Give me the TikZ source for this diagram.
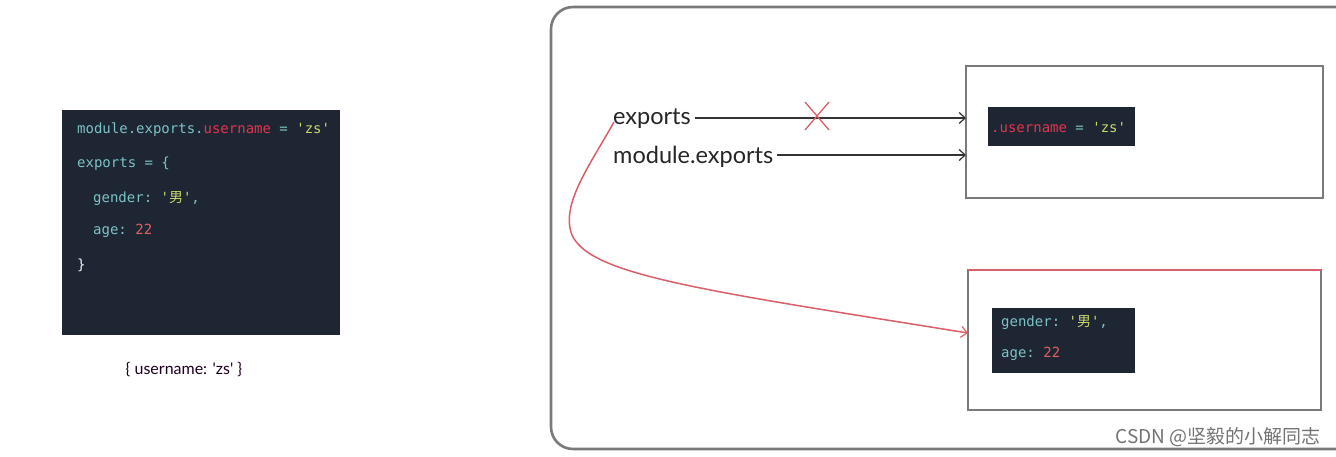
\documentclass[tikz,border=0pt]{standalone}
\usepackage{fontspec}
\setmainfont{Lato}
\setmonofont{DejaVu Sans Mono}
\newfontfamily\cjk{Noto Sans CJK SC}
\usetikzlibrary{arrows.meta}
\definecolor{codebg}{HTML}{1E2533}
\definecolor{cteal}{HTML}{7CC3C6}
\definecolor{cred}{HTML}{E3354F}
\definecolor{cgreen}{HTML}{C8D86A}
\definecolor{cnum}{HTML}{E0625E}
\definecolor{framegray}{HTML}{7A7A7A}
\definecolor{linegray}{HTML}{333333}
\definecolor{curvered}{HTML}{D9606A}
\tikzset{
  x=1pt,y=-1pt,
  chip/.style={fill=codebg,draw=none,inner sep=0pt,anchor=north west},
  code/.style={font=\ttfamily\fontsize{14}{16}\selectfont,anchor=west,inner sep=0pt,text=cteal},
  lbl/.style={font=\fontsize{23.5}{26}\selectfont,anchor=west,inner sep=0pt,text=black!85},
  obox/.style={draw=framegray,line width=2pt},
  conn/.style={draw=linegray,line width=1.4pt,-{Straight Barb[length=6pt,width=11pt,line width=1.2pt]}},
}
\newcommand{\cj}[1]{{\cjk #1}}
\begin{document}
\begin{tikzpicture}
\useasboundingbox (0,0) rectangle (1336,457);
\clip (0,0) rectangle (1336,457);
\fill[white] (0,0) rectangle (1336,457);
% left code panel
\node[chip,minimum width=278pt,minimum height=225pt] (leftpanel) at (62,110) {};
\node[code] (l1) at (77,130) {module.exports.\textcolor{cred}{username} = \textcolor{cgreen}{'zs'}};
\node[code] (l2) at (77,164) {exports = \{};
\node[code] (l3) at (93,198) {gender: \textcolor{cgreen}{'\cj{男}'},};
\node[code] (l4) at (93,231) {age: \textcolor{cnum}{22}};
\node[code,text=white!85!cteal] (l5) at (77,265) {\}};
\node[font=\fontsize{16}{18}\selectfont,text=black!75!violet,inner sep=0pt] (result) at (184,370) {\{ username: \textquotesingle zs\textquotesingle\ \}};
% outer frame
\draw[draw=framegray,line width=2.6pt,rounded corners=22pt] (551,7) rectangle (1380,449);
% box 1
\draw[obox] (966,66) rectangle (1323,198);
\coordinate (b1a) at (966,118);
\coordinate (b1b) at (966,155);
\node[chip,minimum width=147pt,minimum height=39pt] (chip1) at (988,107) {};
\node[code] (c1) at (991,127) {\textcolor{cred}{.username} = \textcolor{cgreen}{'zs'}};
% box 2
\draw[obox] (968,270) rectangle (1321,410);
\draw[draw=curvered,line width=2pt] (968,270) -- (1321,270);
\coordinate (b2a) at (968,333);
\node[chip,minimum width=143pt,minimum height=65pt] (chip2) at (992,308) {};
\node[code] (c2) at (1001,322) {gender: \textcolor{cgreen}{'\cj{男}'},};
\node[code] (c3) at (1001,354) {age: \textcolor{cnum}{22}};
% labels
\node[lbl] (exp) at (613,119) {exports};
\node[lbl] (mexp) at (613,157) {module.exports};
% connectors
\draw[conn] (exp.east) ++(4,-1) coordinate (e1) -- (b1a);
\draw[conn] (mexp.east) ++(4,-2) coordinate (e2) -- (b1b);
% cross
\node[inner sep=0pt,minimum size=0pt] (xmark) at (817,116) {};
\draw[curvered,line width=1.3pt] (xmark) ++(-12,-14) -- ++(24,28);
\draw[curvered,line width=1.3pt] (xmark) ++(12,-14) -- ++(-24,28);
% red curve
\draw[draw=curvered,line width=1.5pt,-{Straight Barb[length=6pt,width=11pt,line width=1.2pt]}]
  (exp.west) ++(1,3) .. controls (590,165) and (560,205) .. (572,235)
  .. controls (590,275) and (700,290) .. (b2a);
% watermark
\node[font=\cjk\fontsize{19}{21}\selectfont,text=black!55,anchor=east,inner sep=0pt] (wm) at (1321,437) {CSDN @坚毅的小解同志};
\end{tikzpicture}
\end{document}
